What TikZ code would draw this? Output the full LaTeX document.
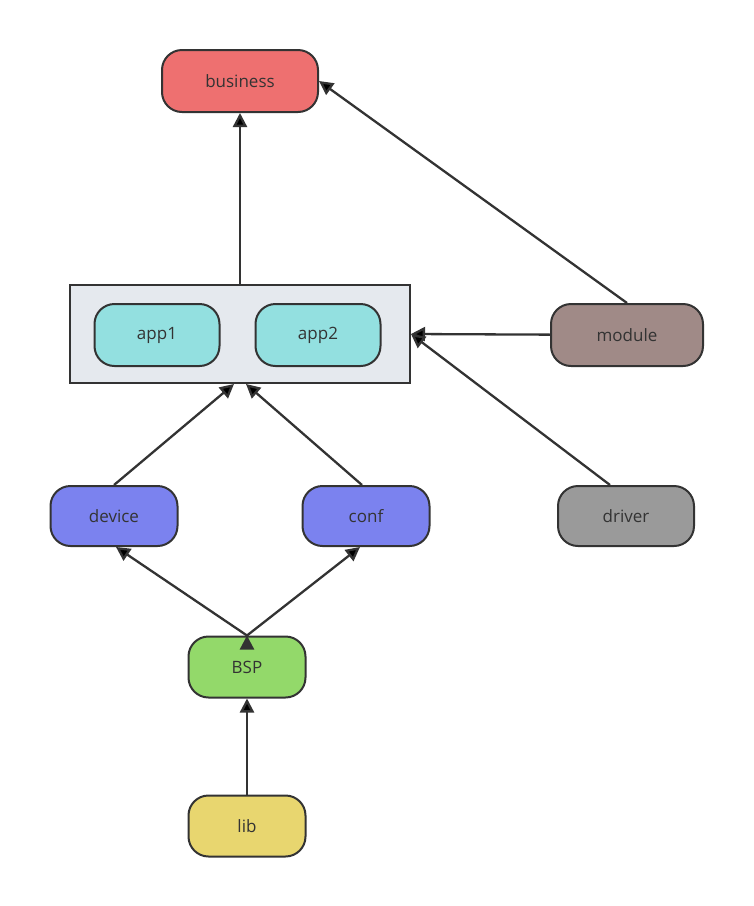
\documentclass[tikz,border=0pt]{standalone}
\usepackage{fontspec}
\setmainfont{Open Sans}
\usetikzlibrary{arrows.meta}
\definecolor{cbus}{HTML}{EE7070}
\definecolor{capp}{HTML}{93E0E0}
\definecolor{cbox}{HTML}{E5E9EE}
\definecolor{cmod}{HTML}{A08A87}
\definecolor{cdev}{HTML}{7B82EF}
\definecolor{cdrv}{HTML}{9A9A9A}
\definecolor{cbsp}{HTML}{93D96A}
\definecolor{clib}{HTML}{E8D66F}
\definecolor{cline}{HTML}{333333}

\begin{document}
\begin{tikzpicture}[x=1pt,y=-1pt]
   \tikzset{every node/.style={draw=cline,line width=2pt,rounded corners=20pt,
        minimum height=62pt,inner sep=0pt,font=\fontsize{17}{20}\selectfont,text=cline}}
   \tikzset{dep/.style={draw=cline,line width=2.3pt,-{Triangle[length=14pt,width=14pt]}}}
\useasboundingbox (0,0) rectangle (754,906);
\node[fill=cbox,rounded corners=0pt,minimum width=340pt,minimum height=98pt](app) at (240,334) {};
\node[fill=cbus,minimum width=156pt](business) at (240,81) {business};
\node[fill=capp,minimum width=125pt](app1) at (157,335) {app1};
\node[fill=capp,minimum width=125pt](app2) at (318,335) {app2};
\node[fill=cmod,minimum width=152pt](module) at (627,335) {module};
\node[fill=cdev,minimum width=127pt,minimum height=60pt](device) at (114,516) {device};
\node[fill=cdev,minimum width=127pt,minimum height=60pt](conf) at (366,516) {conf};
\node[fill=cdrv,minimum width=136pt,minimum height=60pt](driver) at (626,516) {driver};
\node[fill=cbsp,minimum width=117pt,minimum height=61pt](bsp) at (247,667) {BSP};
\node[fill=clib,minimum width=117pt,minimum height=61pt](lib) at (247,826) {lib};

\path[dep]
(app) edge (business)
(module.north) edge (business.east)
(module) edge (app.east)
([xshift=-16pt]driver.north) edge (app.east)
(device.north) edge ([xshift=-6pt]app.south)
([xshift=-4pt]conf.north) edge ([xshift=6pt]app.south)
(bsp.north) edge ([xshift=2pt]device.south)
(bsp.north) edge ([xshift=-6pt]conf.south)
(lib) edge (bsp);
\end{tikzpicture}
\end{document}
